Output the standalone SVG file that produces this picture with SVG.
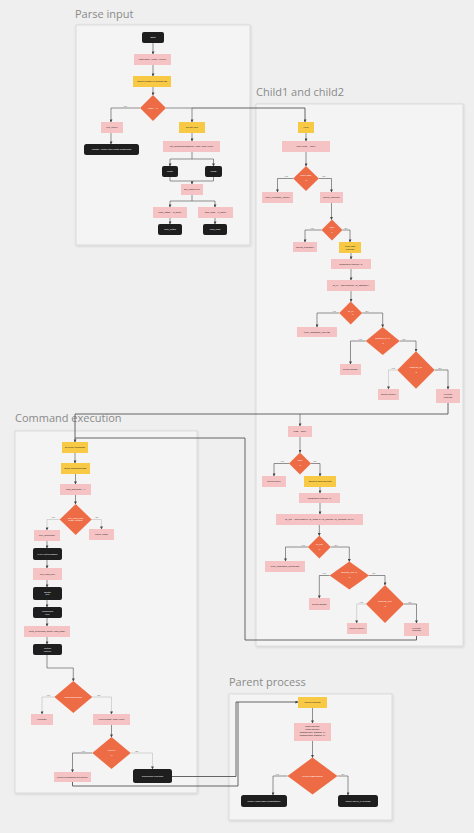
<svg xmlns="http://www.w3.org/2000/svg" width="474" height="833" viewBox="0 0 474 833">
<style>
.frame{fill:#f4f4f4;stroke:#d6d6d6;stroke-width:0.8}
.title{font-family:"Open Sans","Liberation Sans",sans-serif;font-size:11px;fill:#8a8a8a}
.blk{fill:#1e1e1e}
.pnk{fill:#f5c3c3}
.yel{fill:#f8c945}
.dia{fill:#ee6c45}
.t{font-family:"Liberation Sans",Arial,sans-serif;font-size:2.4px;fill:#222;text-anchor:middle}
.w{fill:#fff}
.lbl{font-family:"Liberation Sans",Arial,sans-serif;font-size:2.2px;fill:#555;text-anchor:middle}
.c{fill:none;stroke:#4a4a4a;stroke-width:0.6}
.cl{fill:none;stroke:#bdbdbd;stroke-width:0.6}
.cb{fill:none;stroke:#555;stroke-width:0.9}
</style>
<defs>
<marker id="ah" markerUnits="userSpaceOnUse" markerWidth="3" markerHeight="3" refX="2.6" refY="1.5" orient="auto"><path d="M0,0 L3,1.5 L0,3 z" fill="#444"/></marker>
<filter id="sh" x="-5%" y="-5%" width="110%" height="110%"><feDropShadow dx="0.5" dy="0.8" stdDeviation="0.8" flood-color="#000" flood-opacity="0.15"/></filter>
</defs>
<rect width="474" height="833" fill="#efefef"/>

<g id="frames">
<text class="title" x="75" y="17.5">Parse input</text>
<rect class="frame" x="76" y="25" width="174" height="220" filter="url(#sh)"/>
<text class="title" x="256" y="96">Child1 and child2</text>
<rect class="frame" x="256" y="104" width="207" height="542" filter="url(#sh)"/>
<text class="title" x="15" y="422">Command execution</text>
<rect class="frame" x="15" y="431" width="182" height="362" filter="url(#sh)"/>
<text class="title" x="229" y="686">Parent process</text>
<rect class="frame" x="229" y="694" width="163" height="126" filter="url(#sh)"/>
</g>

<g id="connectors">
<!-- parse input -->
<path class="c" marker-end="url(#ah)" d="M153,43 V54"/>
<path class="c" marker-end="url(#ah)" d="M153,65 V76"/>
<path class="c" marker-end="url(#ah)" d="M153,87 V95"/>
<path class="c" marker-end="url(#ah)" d="M140,108 H111 V122"/>
<path class="c" marker-end="url(#ah)" d="M111,133 V144"/>
<path class="c" marker-end="url(#ah)" d="M166,108 H192 V122"/>
<path class="cb" marker-end="url(#ah)" d="M192,108 H305 V122"/>
<path class="c" marker-end="url(#ah)" d="M192,133 V141"/>
<path class="c" marker-end="url(#ah)" d="M192,152 V159 H170 V166"/>
<path class="c" marker-end="url(#ah)" d="M192,159 H213.5 V166"/>
<path class="c" d="M170,177 V181 H213.5 V177"/>
<path class="c" marker-end="url(#ah)" d="M192,181 V184"/>
<path class="c" marker-end="url(#ah)" d="M192,195 V201 H170 V207"/>
<path class="c" marker-end="url(#ah)" d="M192,201 H215 V207"/>
<path class="c" marker-end="url(#ah)" d="M170,218 V224"/>
<path class="c" marker-end="url(#ah)" d="M215,218 V224"/>
<!-- child1 -->
<path class="c" marker-end="url(#ah)" d="M306,133 V141"/>
<path class="c" marker-end="url(#ah)" d="M306,152 V166"/>
<path class="c" marker-end="url(#ah)" d="M293.2,178.5 H277.5 V192"/>
<path class="c" marker-end="url(#ah)" d="M318.8,178.5 H331.5 V192"/>
<path class="c" marker-end="url(#ah)" d="M331.5,203 V219.5"/>
<path class="c" marker-end="url(#ah)" d="M321.5,230 H305 V242"/>
<path class="c" marker-end="url(#ah)" d="M342.5,230 H350 V242"/>
<path class="c" marker-end="url(#ah)" d="M351,253 V259"/>
<path class="c" marker-end="url(#ah)" d="M351,269 V280"/>
<path class="c" marker-end="url(#ah)" d="M351,291 V301.5"/>
<path class="c" marker-end="url(#ah)" d="M339.2,313 H317 V327"/>
<path class="c" marker-end="url(#ah)" d="M362.2,313 H382.7 V327"/>
<path class="c" marker-end="url(#ah)" d="M365.7,341 H350.5 V364"/>
<path class="c" marker-end="url(#ah)" d="M399.7,341 H416 V351.3"/>
<path class="cl" marker-end="url(#ah)" d="M397.3,370 H388.5 V389"/>
<path class="c" marker-end="url(#ah)" d="M434.7,370 H448 V389"/>
<path class="cb" marker-end="url(#ah)" d="M448,403 V414 H75 V442"/>
<path class="c" marker-end="url(#ah)" d="M300,414 V426"/>
<!-- child2 -->
<path class="c" marker-end="url(#ah)" d="M300,437 V452.5"/>
<path class="c" marker-end="url(#ah)" d="M289,463.5 H274 V476"/>
<path class="c" marker-end="url(#ah)" d="M311,463.5 H320 V476"/>
<path class="c" marker-end="url(#ah)" d="M320,487 V493"/>
<path class="c" marker-end="url(#ah)" d="M320,503 V514"/>
<path class="c" marker-end="url(#ah)" d="M319.3,525 V535.5"/>
<path class="c" marker-end="url(#ah)" d="M307.8,547 H285.5 V561"/>
<path class="c" marker-end="url(#ah)" d="M330.8,547 H349.3 V561.5"/>
<path class="c" marker-end="url(#ah)" d="M329.6,575.5 H319.3 V598"/>
<path class="c" marker-end="url(#ah)" d="M369,575.5 H385 V585"/>
<path class="cl" marker-end="url(#ah)" d="M366,604 H356.7 V623"/>
<path class="c" marker-end="url(#ah)" d="M404,604 H416.5 V623"/>
<path class="cb" d="M416.5,636 V640 H245 V438 H75"/>
<!-- command execution -->
<path class="c" marker-end="url(#ah)" d="M75,453 V463"/>
<path class="c" marker-end="url(#ah)" d="M75.5,474 V484"/>
<path class="c" marker-end="url(#ah)" d="M75.5,495 V504"/>
<path class="cl" marker-end="url(#ah)" d="M59.7,519.5 H47 V530"/>
<path class="cl" marker-end="url(#ah)" d="M91.7,519.5 H101.5 V529"/>
<path class="c" marker-end="url(#ah)" d="M47,541 V548"/>
<path class="c" marker-end="url(#ah)" d="M47,560 V568"/>
<path class="c" marker-end="url(#ah)" d="M47,580 V587"/>
<path class="c" marker-end="url(#ah)" d="M47,600 V607"/>
<path class="c" marker-end="url(#ah)" d="M47,618 V626"/>
<path class="c" marker-end="url(#ah)" d="M47,637 V644"/>
<path class="c" marker-end="url(#ah)" d="M47,655 V668 H73.3 V681"/>
<path class="cl" marker-end="url(#ah)" d="M54.3,697 H42 V714"/>
<path class="cl" marker-end="url(#ah)" d="M92.3,697 H111.5 V714"/>
<path class="c" marker-end="url(#ah)" d="M111.5,725 V737"/>
<path class="c" marker-end="url(#ah)" d="M92.3,753 H72.5 V772"/>
<path class="cl" marker-end="url(#ah)" d="M130.7,753 H152.5 V769"/>
<path class="cb" marker-end="url(#ah)" d="M172,776.5 H236 V702 H298"/>
<path class="cb" d="M72.5,782 V786 H238 V702"/>
<!-- parent -->
<path class="c" marker-end="url(#ah)" d="M312.5,708 V723"/>
<path class="c" marker-end="url(#ah)" d="M312.5,741 V757.5"/>
<path class="c" marker-end="url(#ah)" d="M287.5,776 H273 V795"/>
<path class="c" marker-end="url(#ah)" d="M337.5,776 H348 V795"/>
</g>

<g id="labels">
<text class="lbl" x="125" y="106.8">Yes</text>
<text class="lbl" x="286" y="177.3">Yes</text>
<text class="lbl" x="324" y="177.3">No</text>
<text class="lbl" x="312" y="228.8">Yes</text>
<text class="lbl" x="346" y="228.8">No</text>
<text class="lbl" x="334" y="311.8">Yes</text>
<text class="lbl" x="367" y="311.8">No</text>
<text class="lbl" x="360" y="339.8">Yes</text>
<text class="lbl" x="404" y="339.8">No</text>
<text class="lbl" x="393" y="368.8">Yes</text>
<text class="lbl" x="440" y="368.8">No</text>
<text class="lbl" x="282" y="462.3">Yes</text>
<text class="lbl" x="315" y="462.3">No</text>
<text class="lbl" x="303" y="545.8">Yes</text>
<text class="lbl" x="336" y="545.8">No</text>
<text class="lbl" x="324" y="574.3">Yes</text>
<text class="lbl" x="374" y="574.3">No</text>
<text class="lbl" x="361" y="602.8">Yes</text>
<text class="lbl" x="410" y="602.8">No</text>
<text class="lbl" x="53" y="518.3">Yes</text>
<text class="lbl" x="97" y="518.3">No</text>
<text class="lbl" x="48" y="695.8">Yes</text>
<text class="lbl" x="99" y="695.8">No</text>
<text class="lbl" x="83" y="751.8">Yes</text>
<text class="lbl" x="137" y="751.8">No</text>
<text class="lbl" x="277" y="774.8">Yes</text>
<text class="lbl" x="343" y="774.8">No</text>
</g>

<!-- Parse input nodes -->
<g id="n_start"><rect class="blk" x="142" y="32" width="22" height="11" rx="2"/><text class="t w" x="153" y="38.3">Start</text></g>
<g id="n_main"><rect class="pnk" x="134" y="54" width="37" height="11"/><text class="t" x="152.5" y="60.3">main(argc, **argv, **envp)</text></g>
<g id="n_check"><rect class="yel" x="133" y="76" width="38" height="11"/><text class="t" x="152" y="82.3">Check number of arguments</text></g>
<g id="d_argc"><polygon class="dia" points="153,95 166,108 153,121 140,108"/><text class="t w" x="153" y="108.8">argc != 5</text></g>
<g id="n_exit"><rect class="pnk" x="101" y="122" width="22" height="11"/><text class="t" x="112" y="128.3">exit_error()</text></g>
<g id="n_usage"><rect class="blk" x="84" y="144" width="55" height="11" rx="2.5"/><text class="t w" x="111.5" y="150.3">"Usage: ./pipex file1 cmd1 cmd2 file2"</text></g>
<g id="n_pipe"><rect class="yel" x="179" y="122" width="26" height="11"/><text class="t" x="192" y="128.3">Create pipe</text></g>
<g id="n_init"><rect class="pnk" x="163" y="141" width="57" height="11"/><text class="t" x="191.5" y="147.3">init_parameters(&amp;pipex, argc, argv, envp)</text></g>
<g id="n_cmd1"><rect class="blk" x="162" y="166" width="16" height="11" rx="2"/><text class="t w" x="170" y="172.3">cmd1</text></g>
<g id="n_cmd2"><rect class="blk" x="205" y="166" width="17" height="11" rx="2"/><text class="t w" x="213.5" y="172.3">cmd2</text></g>
<g id="n_getpath"><rect class="pnk" x="181" y="184" width="22" height="11"/><text class="t" x="192" y="190.3">get_path(envp)</text></g>
<g id="n_cmdpaths"><rect class="pnk" x="153" y="207" width="34" height="11"/><text class="t" x="170" y="213.3">cmd_paths = ft_split()</text></g>
<g id="n_cmdargs"><rect class="pnk" x="198" y="207" width="35" height="11"/><text class="t" x="215.5" y="213.3">cmd_args = ft_split()</text></g>
<g id="n_paths"><rect class="blk" x="158" y="224" width="24" height="11" rx="2"/><text class="t w" x="170" y="230.3">cmd_paths</text></g>
<g id="n_args"><rect class="blk" x="203" y="224" width="24" height="11" rx="2"/><text class="t w" x="215" y="230.3">cmd_args</text></g>

<!-- Child1 nodes -->
<g id="n_fork"><rect class="yel" x="298" y="122" width="16" height="11"/><text class="t" x="306" y="128.3">Fork</text></g>
<g id="n_pid1"><rect class="pnk" x="282" y="141" width="48" height="11"/><text class="t" x="306" y="147.3">pipex.pid1 = fork()</text></g>
<g id="d_pid1"><polygon class="dia" points="306,166 318.8,178.5 306,191 293.2,178.5"/><text class="t w" x="306" y="176.2">pipex.pid1<tspan x="306" dy="2.6">==</tspan><tspan x="306" dy="2.6">-1</tspan></text></g>
<g id="n_ferr1"><rect class="pnk" x="262" y="192" width="31" height="11"/><text class="t" x="277.5" y="198.3">error_exit(ERR_FORK)</text></g>
<g id="n_chk1"><rect class="pnk" x="320" y="192" width="23" height="11"/><text class="t" x="331.5" y="198.3">check_pid(pid1)</text></g>
<g id="d_zero1"><polygon class="dia" points="332,219.5 342.5,230 332,240.5 321.5,230"/><text class="t w" x="332" y="227.7">pid1<tspan x="332" dy="2.6">!=</tspan><tspan x="332" dy="2.6">0</tspan></text></g>
<g id="n_par1"><rect class="pnk" x="293" y="242" width="24" height="10"/><text class="t" x="305" y="247.8">parent_process()</text></g>
<g id="n_child1"><rect class="yel" x="339" y="242" width="22" height="11"/><text class="t" x="350" y="246.8">First child<tspan x="350" dy="2.7">process</tspan></text></g>
<g id="n_dup1"><rect class="pnk" x="331" y="259" width="40" height="10"/><text class="t" x="351" y="264.8">dup2(pipex.tube[1], 1)</text></g>
<g id="n_open1"><rect class="pnk" x="327" y="280" width="48" height="11"/><text class="t" x="351" y="286.3">fd_in = open(argv[1], O_RDONLY)</text></g>
<g id="d_in"><polygon class="dia" points="350.7,301.5 362.2,313 350.7,324.5 339.2,313"/><text class="t w" x="350.7" y="311.9">fd_in<tspan x="350.7" dy="2.6">== -1</tspan></text></g>
<g id="n_inerr"><rect class="pnk" x="297" y="327" width="40" height="10"/><text class="t" x="317" y="332.8">error_msg(ERR_INFILE)</text></g>
<g id="d_dup"><polygon class="dia" points="382.7,327 399.7,341 382.7,355 365.7,341"/><text class="t w" x="382.7" y="338.7">dup2(fd_in, 0)<tspan x="382.7" dy="2.6">==</tspan><tspan x="382.7" dy="2.6">-1</tspan></text></g>
<g id="n_duperr"><rect class="pnk" x="340" y="364" width="21" height="11"/><text class="t" x="350.5" y="370.3">perror("dup2")</text></g>
<g id="d_close"><polygon class="dia" points="416,351.3 434.7,370 416,388.7 397.3,370"/><text class="t w" x="416" y="367.7">close(fd_in)<tspan x="416" dy="2.6">==</tspan><tspan x="416" dy="2.6">-1</tspan></text></g>
<g id="n_clerr"><rect class="pnk" x="378" y="389" width="21" height="11"/><text class="t" x="388.5" y="395.3">perror("close")</text></g>
<g id="n_ex1"><rect class="pnk" x="436" y="389" width="24" height="14"/><text class="t" x="448" y="395.1">execute<tspan x="448" dy="2.7">(argv[2])</tspan></text></g>

<!-- Child2 nodes -->
<g id="n_pid2"><rect class="pnk" x="288" y="426" width="24" height="11"/><text class="t" x="300" y="432.3">pid2 = fork()</text></g>
<g id="d_pid2"><polygon class="dia" points="300,452.5 311,463.5 300,474.5 289,463.5"/><text class="t w" x="300" y="461.2">pid2<tspan x="300" dy="2.6">==</tspan><tspan x="300" dy="2.6">-1</tspan></text></g>
<g id="n_ferr2"><rect class="pnk" x="262" y="476" width="24" height="11"/><text class="t" x="274" y="482.3">perror("fork")</text></g>
<g id="n_child2"><rect class="yel" x="304" y="476" width="32" height="11"/><text class="t" x="320" y="482.3">Second child process</text></g>
<g id="n_dup2"><rect class="pnk" x="299" y="493" width="41" height="10"/><text class="t" x="319.5" y="498.8">dup2(pipex.tube[0], 0)</text></g>
<g id="n_open2"><rect class="pnk" x="276" y="514" width="87" height="11"/><text class="t" x="319.5" y="520.3">fd_out = open(argv[4], O_CREAT | O_RDWR | O_TRUNC, 0644)</text></g>
<g id="d_out"><polygon class="dia" points="319.3,535.5 330.8,547 319.3,558.5 307.8,547"/><text class="t w" x="319.3" y="544.7">fd_out<tspan x="319.3" dy="2.6">==</tspan><tspan x="319.3" dy="2.6">-1</tspan></text></g>
<g id="n_outerr"><rect class="pnk" x="265" y="561" width="40" height="11"/><text class="t" x="285" y="567.3">error_msg(ERR_OUTFILE)</text></g>
<g id="d_dup2"><polygon class="dia" points="349.3,561.5 369,575.5 349.3,589.5 329.6,575.5"/><text class="t w" x="349.3" y="573.2">dup2(fd_out, 1)<tspan x="349.3" dy="2.6">==</tspan><tspan x="349.3" dy="2.6">-1</tspan></text></g>
<g id="n_duperr2"><rect class="pnk" x="309" y="598" width="21" height="12"/><text class="t" x="319.5" y="604.8">perror("dup2")</text></g>
<g id="d_close2"><polygon class="dia" points="385,585 404,604 385,623 366,604"/><text class="t w" x="385" y="601.7">close(fd_out)<tspan x="385" dy="2.6">==</tspan><tspan x="385" dy="2.6">-1</tspan></text></g>
<g id="n_clerr2"><rect class="pnk" x="347" y="623" width="20" height="11"/><text class="t" x="357" y="629.3">perror("close")</text></g>
<g id="n_ex2"><rect class="pnk" x="404" y="623" width="25" height="13"/><text class="t" x="416.5" y="628.6">execute<tspan x="416.5" dy="2.7">(argv[3])</tspan></text></g>

<!-- Command execution nodes -->
<g id="n_exec"><rect class="yel" x="62" y="442" width="26" height="11"/><text class="t" x="75" y="448.3">Execute command</text></g>
<g id="n_build"><rect class="yel" x="61" y="463" width="29" height="11"/><text class="t" x="75.5" y="469.3">Build command path</text></g>
<g id="n_split"><rect class="pnk" x="60" y="484" width="31" height="11"/><text class="t" x="75.5" y="490.3">cmd_split(argv, ' ')</text></g>
<g id="d_find"><polygon class="dia" points="75.7,504 91.7,519.5 75.7,535 59.7,519.5"/><text class="t w" x="75.7" y="518.5">get_cmd_path<tspan x="75.7" dy="2.6">(path, cmd[0])</tspan></text></g>
<g id="n_free"><rect class="pnk" x="34" y="530" width="26" height="11"/><text class="t" x="47" y="536.3">free_split(cmd)</text></g>
<g id="n_retpath"><rect class="pnk" x="89" y="529" width="25" height="11"/><text class="t" x="101.5" y="535.3">return (path)</text></g>
<g id="n_b1"><rect class="blk" x="33" y="548" width="29" height="12" rx="2"/><text class="t w" x="47.5" y="554.8">PATH not available</text></g>
<g id="n_p2"><rect class="pnk" x="33" y="568" width="29" height="12"/><text class="t" x="47.5" y="574.8">exit_cmd_fail()</text></g>
<g id="n_b2"><rect class="blk" x="33" y="587" width="29" height="13" rx="2"/><text class="t w" x="47.5" y="592.6">Builtin<tspan x="47.5" dy="2.7">free</tspan></text></g>
<g id="n_b3"><rect class="blk" x="33" y="607" width="29" height="11" rx="2"/><text class="t w" x="47.5" y="611.8">Command<tspan x="47.5" dy="2.7">free</tspan></text></g>
<g id="n_p3"><rect class="pnk" x="24" y="626" width="46" height="11"/><text class="t" x="47" y="632.3">print_error(cmd_failed, cmd_path)</text></g>
<g id="n_b4"><rect class="blk" x="33" y="644" width="29" height="11" rx="2"/><text class="t w" x="47.5" y="648.8">Return<tspan x="47.5" dy="2.7">(NULL)</tspan></text></g>
<g id="d_found"><polygon class="dia" points="73.3,681 92.3,697 73.3,713 54.3,697"/><text class="t w" x="73.3" y="697.8">Command found</text></g>
<g id="n_exit127"><rect class="pnk" x="31" y="714" width="22" height="11"/><text class="t" x="42" y="720.3">exit(127)</text></g>
<g id="n_execve"><rect class="pnk" x="93" y="714" width="37" height="11"/><text class="t" x="111.5" y="720.3">execve(path, cmd, envp)</text></g>
<g id="d_ret"><polygon class="dia" points="111.5,737 130.7,753 111.5,769 92.3,753"/><text class="t w" x="111.5" y="750.7">execve<tspan x="111.5" dy="2.6">==</tspan><tspan x="111.5" dy="2.6">-1</tspan></text></g>
<g id="n_notfound"><rect class="pnk" x="54" y="772" width="37" height="10"/><text class="t" x="72.5" y="777.8">perror("command not found")</text></g>
<g id="n_done"><rect class="blk" x="133" y="769" width="39" height="14" rx="2.5"/><text class="t w" x="152.5" y="776.8">Command executed</text></g>

<!-- Parent process nodes -->
<g id="n_parent"><rect class="yel" x="298" y="697" width="29" height="11"/><text class="t" x="312.5" y="703.3">Parent process</text></g>
<g id="n_waits"><rect class="pnk" x="294" y="723" width="37" height="18"/><text class="t" x="312.5" y="727.4">close(pipe[0])<tspan x="312.5" dy="3">close(pipe[1])</tspan><tspan x="312.5" dy="3">waitpid(pid1, &amp;status, 0)</tspan><tspan x="312.5" dy="3">waitpid(pid2, &amp;status, 0)</tspan></text></g>
<g id="d_wif"><polygon class="dia" points="312.5,757.5 337.5,776 312.5,794.5 287.5,776"/><text class="t w" x="312.5" y="776.8">WIFEXITED(status)</text></g>
<g id="n_retw"><rect class="blk" x="241" y="795" width="46" height="12" rx="2.5"/><text class="t w" x="264" y="801.8">return (WEXITSTATUS(status))</text></g>
<g id="n_retf"><rect class="blk" x="338" y="795" width="40" height="12" rx="2.5"/><text class="t w" x="358" y="801.8">return (EXIT_FAILURE)</text></g>
</svg>
